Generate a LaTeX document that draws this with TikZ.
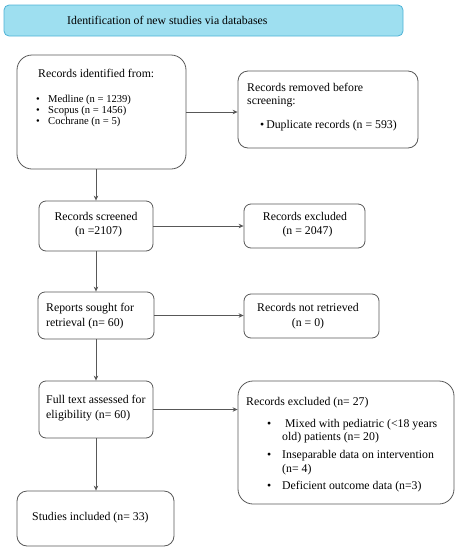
\documentclass[tikz,border=0pt]{standalone}
\usepackage{fontspec}
\setmainfont{Liberation Serif}
\usetikzlibrary{arrows.meta}
\definecolor{bannerfill}{RGB}{158,223,240}
\definecolor{bannerdraw}{RGB}{78,178,214}
\definecolor{edge}{RGB}{88,88,88}
\begin{document}
\begin{tikzpicture}[x=1pt,y=-1pt,
  box/.style={draw=edge, line width=0.8pt, rounded corners=7pt, inner sep=0pt},
  bigbox/.style={box, rounded corners=15pt},
  midbox/.style={box, rounded corners=10pt},
  txt/.style={inner sep=0pt, font=\fontsize{11.8}{13.5}\selectfont, align=left},
  ctxt/.style={txt, align=center},
  small/.style={inner sep=0pt, font=\fontsize{10.6}{11}\selectfont, align=left},
  arr/.style={draw=edge, line width=0.8pt, -{Stealth[length=5pt,width=4.5pt]}}]
\useasboundingbox (0,0) rectangle (459,550);
% boxes
\node[box, fill=bannerfill, draw=bannerdraw, rounded corners=5pt, minimum width=399pt, minimum height=31pt] (ban) at (203.5,20.5) {};
\node[bigbox, minimum width=169pt, minimum height=114pt] (b1) at (101.5,112) {};
\node[midbox, minimum width=180pt, minimum height=77pt] (b2) at (328,109.5) {};
\node[box, minimum width=114pt, minimum height=50pt] (b3) at (96,226) {};
\node[box, minimum width=121pt, minimum height=44pt] (b4) at (304.5,226) {};
\node[box, minimum width=116pt, minimum height=47pt] (b5) at (96,315.5) {};
\node[box, minimum width=135pt, minimum height=44pt] (b6) at (311.5,316) {};
\node[box, minimum width=114pt, minimum height=57pt] (b7) at (96,409.5) {};
\node[bigbox, minimum width=216pt, minimum height=123pt] (b8) at (346,442.5) {};
\node[midbox, minimum width=157pt, minimum height=55pt] (b9) at (95.5,518.5) {};
% texts (base anchor = baseline of the last line)
\node[txt, anchor=west] (tban) at (67,20) {Identification of new studies via databases};
\node[txt, anchor=base west] (t1) at (38,77) {Records identified from:};
\node[small, anchor=base west] (t1l) at (36,124) {\makebox[12pt][l]{•}Medline (n = 1239)\\\makebox[12pt][l]{•}Scopus (n = 1456)\\\makebox[12pt][l]{•}Cochrane (n = 5)};
\node[txt, anchor=base west] (t2) at (247,128) {Records removed before\\screening:\\[10pt]\hspace*{13pt}•\,Duplicate records (n = 593)};
\node[ctxt, anchor=base] (t3) at (96,234) {Records screened\\\hspace*{5pt}(n =2107)};
\node[ctxt, anchor=base] (t4) at (305,234) {Records excluded\\\hspace*{5pt}(n = 2047)};
\node[txt, anchor=base west] (t5) at (46,326) {Reports sought for\\[1.5pt]retrieval (n= 60)};
\node[ctxt, anchor=base] (t6) at (308,326) {Records not retrieved\\[1.5pt](n = 0)};
\node[txt, anchor=base west] (t7) at (46,418) {Full text assessed for\\[1.5pt]eligibility (n= 60)};
\node[txt, anchor=base west] (t8) at (246,489) {Records excluded (n= 27)\\[8.5pt]
\hspace*{21pt}\makebox[15pt][l]{•} Mixed with pediatric (<18 years\\
\hspace*{36pt}old) patients (n= 20)\\[4.5pt]
\hspace*{21pt}\makebox[15pt][l]{•}Inseparable data on intervention\\
\hspace*{36pt}(n= 4)\\[3.5pt]
\hspace*{21pt}\makebox[15pt][l]{•}Deficient outcome data (n=3)};
\node[txt, anchor=base west] (t9) at (32,520) {Studies included (n= 33)};
% connectors
\draw[arr] (b3.north |- b1.south) -- (b3.north);
\draw[arr] (b1.east) -- (b1.east -| b2.west);
\draw[arr] (b3.east) -- (b4.west);
\draw[arr] (b3.south) -- (b5.north);
\draw[arr] (b5.east) -- (b5.east -| b6.west);
\draw[arr] (b5.south) -- (b7.north);
\draw[arr] (b7.east) -- (b7.east -| b8.west);
\draw[arr] (b7.south) -- (b7.south |- b9.north);
\end{tikzpicture}
\end{document}
